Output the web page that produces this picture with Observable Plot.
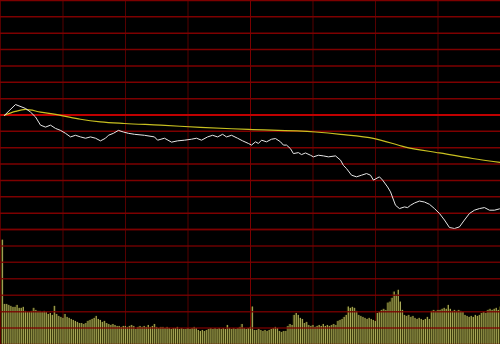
<!DOCTYPE html>
<html>
<head>
<meta charset="utf-8">
<script src="https://cdn.jsdelivr.net/npm/d3@7"></script>
<script src="https://cdn.jsdelivr.net/npm/@observablehq/plot@0.6"></script>
<style>
  html, body { margin: 0; padding: 0; background: #000; }
  #chart { width: 500px; height: 344px; background: #000; overflow: hidden; }
  #chart svg { display: block; }
</style>
</head>
<body>
<div id="chart"></div>
<script>
// ---- data ----
const prevClose = 10.00;
const priceTicks = [9.65, 9.70, 9.75, 9.80, 9.85, 9.90, 9.95, 10.00, 10.05, 10.10, 10.15, 10.20, 10.25, 10.30, 10.35];
const volumeTicks = [0, 1000, 2000, 3000, 4000, 5000, 6000, 7000];
const timeTicks = [0, 30, 60, 90, 120, 150, 180, 210, 240];

const priceMinutes = [1.9, 7.2, 12, 14.4, 16.8, 19.2, 21.6, 24, 26.4, 28.8, 31.2, 33.6, 36, 38.4, 40.8, 43.2, 45.6, 48, 50.4, 51.8,
  54.2, 56.6, 59, 61.4, 64.3, 69.1, 73.9, 75.4, 78.7, 82.1, 85, 88.3, 91.7, 94.1, 96.5, 99.4, 101.8, 104.2, 106.6, 108.5,
  110.9, 113.8, 116.2, 119, 120.5, 122.4, 123.8, 125.3, 127.7, 130.1, 132, 134.4, 135.8, 137.3, 139.2, 140.6, 143, 144.5, 146.4, 148.8,
  150.2, 152.6, 155, 157.4, 160.8, 163.2, 164.6, 166.1, 168.5, 170.9, 173.3, 175.7, 177.6, 179, 181.9, 183.4, 185.8, 187.2, 189.6, 191.5,
  193.9, 195.4, 196.8, 198.7, 201.1, 203.5, 205.9, 208.3, 210.7, 213.1, 215.5, 217.9, 220.3, 222.7, 225.1, 227.5, 229.9, 232.3, 234.7, 237.1, 239.5];
const priceValues = [9.999, 10.032, 10.020, 10.009, 9.994, 9.969, 9.963, 9.969, 9.959, 9.953, 9.944, 9.933, 9.938, 9.933, 9.929, 9.933, 9.929, 9.921, 9.929, 9.938,
  9.944, 9.953, 9.948, 9.944, 9.941, 9.938, 9.933, 9.923, 9.929, 9.917, 9.921, 9.923, 9.926, 9.929, 9.923, 9.933, 9.938, 9.933, 9.941, 9.933,
  9.938, 9.929, 9.921, 9.913, 9.908, 9.918, 9.913, 9.923, 9.918, 9.926, 9.928, 9.918, 9.908, 9.908, 9.897, 9.882, 9.885, 9.879, 9.884, 9.877,
  9.872, 9.877, 9.875, 9.872, 9.875, 9.862, 9.846, 9.836, 9.816, 9.811, 9.816, 9.821, 9.816, 9.801, 9.811, 9.801, 9.780, 9.765, 9.724, 9.714,
  9.719, 9.717, 9.724, 9.731, 9.737, 9.734, 9.727, 9.714, 9.699, 9.679, 9.656, 9.653, 9.658, 9.679, 9.699, 9.709, 9.714, 9.717, 9.709, 9.709, 9.713];

const avgMinutes = [1.9, 7.2, 12, 19.2, 28.8, 38.4, 48, 59.5, 76.8, 96, 119, 151.2, 163.2, 179.5, 194.4, 210.7, 226.6, 240];
const avgValues = [9.999, 10.011, 10.017, 10.009, 9.999, 9.987, 9.979, 9.974, 9.969, 9.962, 9.956, 9.948, 9.941, 9.928, 9.902, 9.884, 9.867, 9.855];

const volumes = [
  6350, 2440, 2440, 2380, 2320, 2260, 2260, 2380, 2200, 2200, 2260, 2015, 1955, 1955, 2015, 2200, 2075, 2015, 2015, 1955,
  2015, 1955, 1830, 1890, 1770, 2320, 1830, 1710, 1650, 1590, 1830, 1650, 1590, 1525, 1465, 1405, 1345, 1280, 1280, 1220,
  1280, 1405, 1465, 1525, 1590, 1710, 1525, 1465, 1345, 1405, 1280, 1220, 1160, 1220, 1160, 1100, 1100, 1040, 1100, 1100,
  1040, 1100, 1160, 1100, 915, 1040, 1100, 1040, 1100, 1040, 1160, 1040, 1100, 1220, 1040, 975, 1040, 1040, 975, 1040,
  975, 915, 975, 975, 1040, 915, 975, 915, 915, 975, 915, 975, 1040, 975, 855, 795, 855, 795, 855, 915,
  975, 915, 975, 915, 975, 915, 975, 915, 1160, 975, 915, 975, 915, 975, 1040, 1220, 975, 915, 975, 1040,
  2280, 855, 855, 915, 855, 795, 855, 795, 855, 915, 975, 1040, 975, 795, 735, 795, 795, 1100, 1220, 1160,
  1770, 1890, 1770, 1590, 1525, 1280, 1345, 1160, 1100, 1160, 1040, 1100, 1160, 1100, 1220, 1100, 1160, 1100, 1160, 1220,
  1160, 1405, 1465, 1525, 1650, 1770, 2280, 2200, 2260, 2200, 2015, 1770, 1710, 1650, 1590, 1525, 1590, 1525, 1465, 1405,
  1890, 1955, 2075, 2140, 2075, 2520, 2580, 2810, 3190, 3000, 3300, 2580, 2075, 1770, 1710, 1770, 1650, 1710, 1590, 1525,
  1590, 1525, 1465, 1525, 1650, 1525, 2015, 2075, 2015, 2075, 2075, 2140, 2200, 2140, 2380, 2140, 2015, 2075, 2015, 2075,
  2015, 1955, 1770, 1710, 1650, 1710, 1650, 1770, 1710, 1770, 1890, 1955, 1890, 2075, 2140, 2075, 2140, 2200, 2075, 2280];

// ---- build tables ----
const priceData = priceMinutes.map((m, i) => ({minute: m, price: priceValues[i]}));
const avgData = avgMinutes.map((m, i) => ({minute: m, price: avgValues[i]}));
const volData = volumes.map((v, i) => ({minute: i + 1, volume: v}));

const gridColor = "#7d0000";
const vGridColor = "#560000";

const pricePlot = Plot.plot({
  width: 500, height: 229,
  margin: 0,
  style: {background: "#000", overflow: "visible"},
  x: {domain: [0, 240], axis: null},
  y: {domain: [priceTicks[0], priceTicks[priceTicks.length - 1]], axis: null},
  marks: [
    Plot.ruleX(timeTicks, {stroke: d => d === 120 ? "#7a0000" : vGridColor, strokeWidth: 1}),
    Plot.ruleY(priceTicks, {stroke: gridColor, strokeWidth: 1.5}),
    Plot.ruleY([prevClose], {stroke: "#c00000", strokeWidth: 2}),
    Plot.line(avgData, {x: "minute", y: "price", stroke: "#c8c020", strokeWidth: 1.2, curve: "monotone-x"}),
    Plot.line(priceData, {x: "minute", y: "price", stroke: "#e6e6e6", strokeWidth: 1})
  ]
});

const volumePlot = Plot.plot({
  width: 500, height: 115,
  margin: 0,
  style: {background: "#000", overflow: "visible"},
  x: {domain: [0, 240], axis: null},
  y: {domain: [0, 7000], axis: null},
  marks: [
    Plot.ruleX(timeTicks, {stroke: d => d === 120 ? "#7a0000" : vGridColor, strokeWidth: 1}),
    Plot.rect(volData, {x1: d => d.minute - 0.5, x2: d => d.minute + 0.5, y1: 0, y2: "volume", fill: "#3e3e0c"}),
    Plot.ruleX(volData, {x: "minute", y1: 0, y2: "volume", stroke: "#a8a858", strokeWidth: 1}),
    Plot.ruleY(volumeTicks, {stroke: gridColor, strokeWidth: 1.5, strokeOpacity: 0.85})
  ]
});

const chart = document.getElementById("chart");
chart.appendChild(pricePlot);
chart.appendChild(volumePlot);
</script>
</body>
</html>
